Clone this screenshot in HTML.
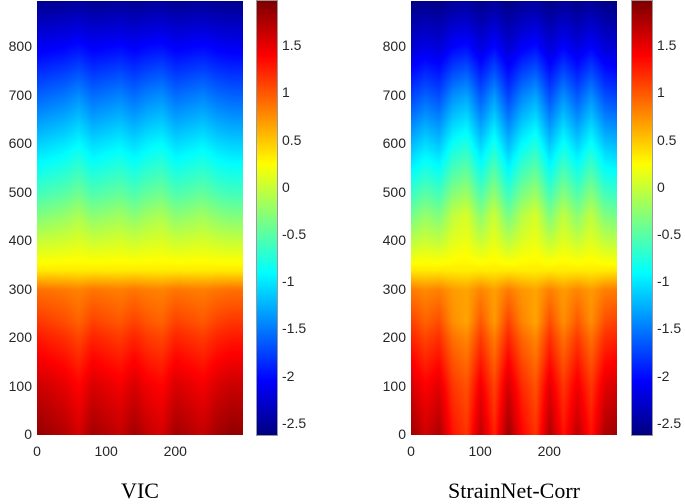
<!DOCTYPE html>
<html><head><meta charset="utf-8">
<style>
body{margin:0;background:#fff;width:685px;height:501px;overflow:hidden;font-family:"Liberation Sans",sans-serif;}
#wrap{position:relative;width:685px;height:501px;}
canvas{position:absolute;}
.t{position:absolute;font-size:14px;color:#262626;white-space:nowrap;}
.ttl{position:absolute;font-family:"Liberation Serif",serif;font-size:22px;color:#000;white-space:nowrap;}
</style></head>
<body>
<div id="wrap"></div>
<script>
// Profile: value vs y (mm)
const profileY = [0, 100, 200, 300, 340, 400, 500, 600, 700, 800, 895];
const vicProfile = [1.9, 1.65, 1.3, 0.9, 0.35, 0.0, -0.6, -1.1, -1.6, -2.1, -2.55];
const snProfile = [1.85, 1.6, 1.25, 0.85, 0.35, -0.05, -0.65, -1.2, -1.75, -2.25, -2.6];
// Column perturbations vs x
const colX = [0, 20, 40, 60, 80, 100, 120, 140, 160, 180, 200, 220, 240, 260, 280, 298];
const vicCols = [0.0, 0.05, 0.1, 0.2, 0.05, 0.1, 0.15, 0.05, 0.15, 0.2, 0.05, 0.1, 0.15, 0.05, 0.0, 0.0];
const snCols = [0.0, 0.15, 0.05, 0.35, 0.45, 0.1, 0.4, 0.0, 0.3, 0.45, 0.05, 0.35, 0.1, 0.35, 0.05, 0.0];
const yTicks = [0, 100, 200, 300, 400, 500, 600, 700, 800];
const xTicks = [0, 100, 200];
const cbTicks = [1.5, 1, 0.5, 0, -0.5, -1, -1.5, -2, -2.5];
const cMin = -2.62, cMax = 1.98, yMax = 895, xMax = 298;

function interp(xs, ys, x){
  if (x <= xs[0]) return ys[0];
  for (let i = 1; i < xs.length; i++) if (x <= xs[i]) { const t = (x - xs[i-1]) / (xs[i] - xs[i-1]); return ys[i-1] + t * (ys[i] - ys[i-1]); }
  return ys[ys.length-1];
}
function jet(v){
  let t = Math.max(0, Math.min(1, (v - cMin) / (cMax - cMin)));
  const f = (x)=>Math.max(0, Math.min(1, x));
  const r = f(1.5 - Math.abs(4*t - 3)), g = f(1.5 - Math.abs(4*t - 2)), b = f(1.5 - Math.abs(4*t - 1));
  return [r*255, g*255, b*255];
}
const wrap = document.getElementById('wrap');
function text(x, y, s, cls, align, name){
  const d = document.createElement('div');
  d.className = cls; d.textContent = s;
  
  
  d.style.top = y + 'px';
  if (align === 'r') { d.style.right = (685 - x) + 'px'; }
  else if (align === 'c') { d.style.left = x + 'px'; d.style.transform = 'translateX(-50%)'; }
  else d.style.left = x + 'px';
  wrap.appendChild(d);
}
function panel(px, prof, cols, cbx, title, pname){
  const L = px, R = px + 206, T = 1, B = 435;
  const xs = (v)=>L + v / xMax * (R - L);
  const ys = (v)=>B - v / yMax * (B - T);
  const c = document.createElement('canvas');
  c.width = R - L; c.height = B - T;
  c.style.left = L + 'px'; c.style.top = T + 'px';
  
  
  const ctx = c.getContext('2d'); const img = ctx.createImageData(c.width, c.height);
  for (let j = 0; j < c.height; j++){
    const yv = (B - (T + j)) / (B - T) * yMax;
    const base = interp(profileY, prof, yv);
    let w = Math.max(-1, Math.min(1, (yv - 345) / 110));
    if (yv > 700) w *= Math.max(0.3, 1 - (yv - 700) / 250);
    if (yv < 200) w *= 1 + (200 - yv) / 200 * 0.5;
    for (let i = 0; i < c.width; i++){
      const xv = i / c.width * xMax;
      const v = base + w * interp(colX, cols, xv);
      const [r,g,b] = jet(v); const k = (j * c.width + i) * 4;
      img.data[k]=r; img.data[k+1]=g; img.data[k+2]=b; img.data[k+3]=255;
    }
  }
  ctx.putImageData(img, 0, 0);
  wrap.appendChild(c);
  yTicks.forEach(t => text(L - 5, ys(t) - 9, String(t), 't', 'r', pname + '-y-tick'));
  xTicks.forEach(t => text(xs(t), 443, String(t), 't', 'c', pname + '-x-tick'));
  const cb = document.createElement('canvas'); cb.width = 20; cb.height = B - T;
  cb.style.left = cbx + 'px'; cb.style.top = T + 'px'; cb.style.outline = '1px solid #999';
  
  
  const cc = cb.getContext('2d');
  for (let j = 0; j < cb.height; j++){
    const v = cMax - j / (cb.height) * (cMax - cMin); const [r,g,b] = jet(v);
    cc.fillStyle = `rgb(${r|0},${g|0},${b|0})`; cc.fillRect(0, j, 20, 1);
  }
  wrap.appendChild(cb);
  cbTicks.forEach(t => {
    const y = T + (cMax - t) / (cMax - cMin) * (B - T);
    text(cbx + 25, y - 9, String(t), 't', 'l', pname + '-colorbar-tick');
  });
  text((L + R) / 2, 478, title, 'ttl', 'c', pname + '-title');
}
panel(37, vicProfile, vicCols, 257, 'VIC', 'vic');
panel(411, snProfile, snCols, 632, 'StrainNet-Corr', 'strainnet');
</script>
</body></html>
